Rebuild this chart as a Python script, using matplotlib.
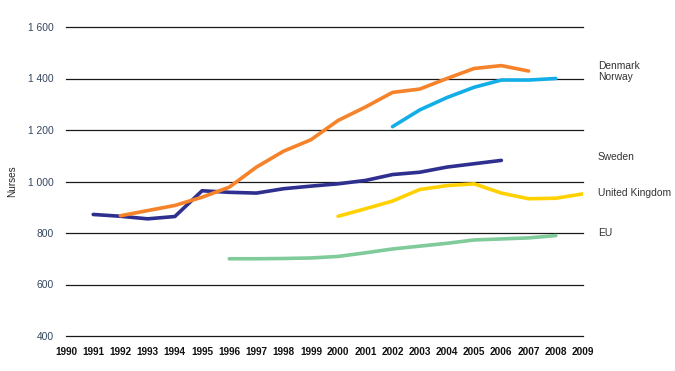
import matplotlib
matplotlib.use('Agg')
import matplotlib.pyplot as plt
import numpy as np

plt.rcParams['font.family'] = ['Liberation Sans', 'DejaVu Sans']

# data
sweden_years = list(range(1991, 2007))
sweden = [872, 865, 855, 864, 964, 958, 955, 972, 982, 991, 1004, 1027, 1036, 1056, 1069, 1082]

denmark_years = list(range(1992, 2008))
denmark = [867, 887, 907, 939, 978, 1056, 1118, 1162, 1237, 1289, 1346, 1359, 1400, 1439, 1450, 1429]

norway_years = list(range(2002, 2009))
norway = [1213, 1278, 1326, 1366, 1394, 1394, 1400]

uk_years = list(range(2000, 2010))
uk = [865, 894, 924, 969, 984, 991, 955, 933, 935, 952]

eu_years = list(range(1996, 2009))
eu = [700, 700, 701, 703, 709, 723, 738, 749, 760, 773, 777, 781, 790]

yticks = [400, 600, 800, 1000, 1200, 1400, 1600]
ytick_labels = ['400', '600', '800', '1 000', '1 200', '1 400', '1 600']
xticks = list(range(1990, 2010))

series = [
    (sweden_years, sweden, '#2e2f8f'),
    (uk_years, uk, '#ffd100'),
    (eu_years, eu, '#7fcb9a'),
    (norway_years, norway, '#12aee8'),
    (denmark_years, denmark, '#f6822a'),
]

# labels at the right, with their y-positions in data units
label_names = ['Denmark', 'Norway', 'Sweden', 'United Kingdom', 'EU']
label_y = [1449, 1405, 1094, 954, 800]

fig = plt.figure(figsize=(6.75, 3.71), dpi=100)
ax = fig.add_axes([66/675, 1-336/371, (583-66)/675, (336-27)/371])

for y in yticks:
    ax.axhline(y, color='#1a1a1a', linewidth=0.9, zorder=1, clip_on=False)

for xs, ys, col in series:
    ax.plot(xs, ys, color=col, linewidth=2.6, solid_capstyle='round', zorder=3)

for name, ly in zip(label_names, label_y):
    ax.text(2009.55, ly, name, fontsize=7.4, color='#333333',
            va='center', ha='left', clip_on=False)

ax.set_xlim(1990, 2009)
ax.set_ylim(400, 1600)
ax.set_yticks(yticks)
ax.set_yticklabels(ytick_labels, fontsize=7.4, color='#34465f')
ax.set_xticks(xticks)
ax.set_xticklabels([str(x) for x in xticks], fontsize=7.2, fontweight='bold', color='#111111')
ax.tick_params(axis='both', length=0)
ax.tick_params(axis='y', pad=9)
ax.tick_params(axis='x', pad=8)
for s in ax.spines.values():
    s.set_visible(False)

ax.set_ylabel('Nurses', fontsize=7.2, color='#222222', labelpad=8)

plt.savefig('out.png', dpi=100)
